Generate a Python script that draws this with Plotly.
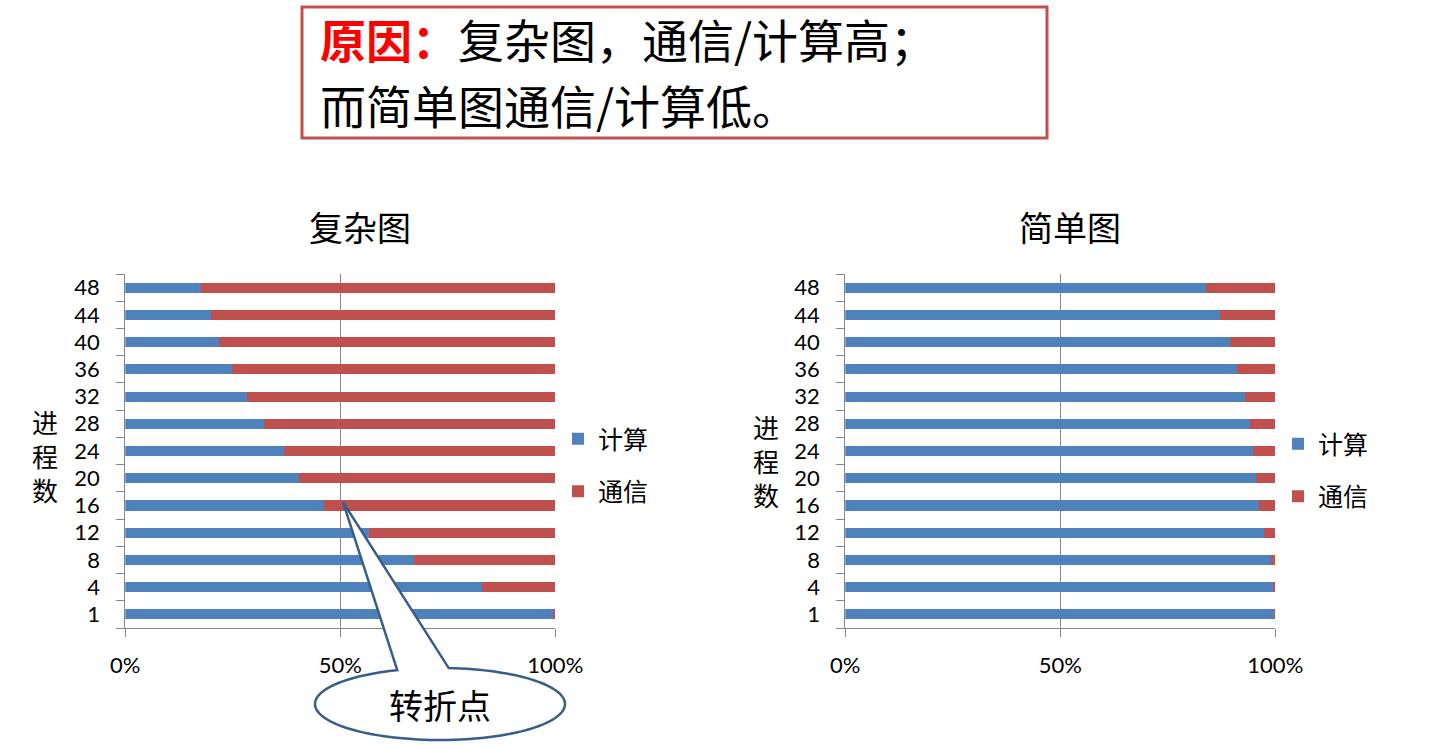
import numpy as np
import plotly.graph_objects as go

W, H = 1440, 747

# ---------------- data ----------------
procs = ["1", "4", "8", "12", "16", "20", "24", "28", "32", "36", "40", "44", "48"]
series_names = ["计算", "通信"]
complex_compute = [99.7, 82.9, 67.1, 56.6, 46.1, 40.5, 36.9, 32.2, 28.3, 24.7, 21.8, 20.0, 17.5]
complex_comm = [0.3, 17.1, 32.9, 43.4, 53.9, 59.5, 63.1, 67.8, 71.7, 75.3, 78.2, 80.0, 82.5]
simple_compute = [99.8, 99.5, 99.0, 97.4, 96.3, 95.4, 94.8, 94.0, 92.9, 91.0, 89.4, 87.1, 83.8]
simple_comm = [0.2, 0.5, 1.0, 2.6, 3.7, 4.6, 5.2, 6.0, 7.1, 9.0, 10.6, 12.9, 16.2]
x_ticks = [0, 50, 100]
x_tick_labels = ["0%", "50%", "100%"]
chart_titles = ["复杂图", "简单图"]
y_title = "进程数"
callout_text = "转折点"

BLUE = "#4F81BD"
RED = "#C0504D"
GRID = "#868686"
NUMFONT = "Lato, Noto Sans CJK SC"
CJK = "Noto Sans CJK SC"


def px(x):
    return x / W


def py(y):
    return 1 - y / H


fig = go.Figure()

for name, vals, col in [(series_names[0], complex_compute, BLUE), (series_names[1], complex_comm, RED)]:
    fig.add_trace(go.Bar(x=vals, y=procs, orientation="h", name=name, marker=dict(color=col, line_width=0),
                         xaxis="x", yaxis="y", legend="legend", legendgroup="a" + name))
for name, vals, col in [(series_names[0], simple_compute, BLUE), (series_names[1], simple_comm, RED)]:
    fig.add_trace(go.Bar(x=vals, y=procs, orientation="h", name=name, marker=dict(color=col, line_width=0),
                         xaxis="x2", yaxis="y2", legend="legend2", legendgroup="b" + name))

ydom = [py(628), py(274)]
xdom1 = [px(125.3), px(555.3)]
xdom2 = [px(845.3), px(1275.3)]

xaxis_common = dict(range=[0, 100], tickvals=x_ticks, ticktext=x_tick_labels, showgrid=True,
                    gridcolor=GRID, gridwidth=1, showline=True, linecolor=GRID, linewidth=1,
                    ticks="outside", ticklen=8, tickcolor=GRID, zeroline=False, automargin=False,
                    tickfont=dict(family=NUMFONT, size=22, color="#000"), ticklabelstandoff=10,
                    fixedrange=True)
yaxis_common = dict(type="category", categoryorder="array", categoryarray=procs, range=[-0.5, 12.5],
                    showline=True, linecolor=GRID, linewidth=1, ticks="outside", ticklen=8,
                    tickcolor=GRID, tickson="boundaries", showgrid=False, automargin=False,
                    tickfont=dict(family=NUMFONT, size=22, color="#000"), ticklabelstandoff=20,
                    fixedrange=True)

fig.update_layout(
    width=W, height=H,
    margin=dict(l=0, r=0, t=0, b=0, autoexpand=False),
    paper_bgcolor="white", plot_bgcolor="white",
    barmode="stack", bargap=0.63,
    xaxis=dict(domain=xdom1, anchor="y", **xaxis_common),
    yaxis=dict(domain=ydom, anchor="x", **yaxis_common),
    xaxis2=dict(domain=xdom2, anchor="y2", **xaxis_common),
    yaxis2=dict(domain=ydom, anchor="x2", **yaxis_common),
    legend=dict(x=px(558), y=py(416), xanchor="left", yanchor="top", traceorder="grouped",
                tracegroupgap=17, font=dict(family=CJK, size=25, color="#000"),
                bgcolor="rgba(0,0,0,0)", itemwidth=30),
    legend2=dict(x=px(1278), y=py(421), xanchor="left", yanchor="top", traceorder="grouped",
                 tracegroupgap=17, font=dict(family=CJK, size=25, color="#000"),
                 bgcolor="rgba(0,0,0,0)", itemwidth=30),
    showlegend=True,
)


def note(text, x, y, size, xanchor="center", color="#000"):
    return dict(text=text, x=px(x), y=py(y), xref="paper", yref="paper", xanchor=xanchor, yanchor="middle",
                showarrow=False, font=dict(family=CJK, size=size, color=color), align="center")


annotations = [
    note(chart_titles[0], 360, 226, 34),
    note(chart_titles[1], 1070, 226, 34),
    note("<br>".join(list(y_title)), 45, 455, 26),
    note("<br>".join(list(y_title)), 766, 460, 26),
    note("<b><span style='color:#FF0000'>原因：</span></b>复杂图，通信/计算高；", 318, 38, 46, xanchor="left"),
    note("而简单图通信/计算低。", 318, 104, 46, xanchor="left"),
    note(callout_text, 440, 704, 34),
]

shapes = []
# header box
shapes.append(dict(type="rect", xref="paper", yref="paper", x0=px(302), x1=px(1047), y0=py(138), y1=py(7),
                   line=dict(color="#C0504D", width=3), fillcolor="white", layer="below"))
# callout ellipse with pointer
cx, cy, rx, ry = 440, 704, 125, 36
tA = np.deg2rad(-110 + 360)
tB = np.deg2rad(-86)
ts = np.linspace(tB, tA, 120)
pts = [(cx + rx * np.cos(t), cy + ry * np.sin(t)) for t in ts]
path = "M {:.5f},{:.5f} ".format(px(pts[0][0]), py(pts[0][1]))
path += " ".join("L {:.5f},{:.5f}".format(px(a), py(b)) for a, b in pts[1:])
path += " L {:.5f},{:.5f} Z".format(px(343), py(502))
shapes.append(dict(type="path", xref="paper", yref="paper", path=path,
                   line=dict(color="#385D8A", width=2.5), fillcolor="white", layer="above"))

fig.update_layout(annotations=annotations, shapes=shapes)

fig.write_html("out.html", config={"displayModeBar": False},
               post_script="document.body.style.margin='0';document.body.style.overflow='hidden';")
